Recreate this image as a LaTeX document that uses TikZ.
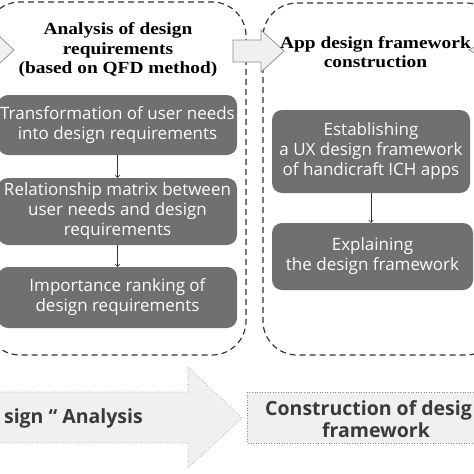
\documentclass[tikz,border=0pt]{standalone}
\usepackage{fontspec}
\setmainfont{Open Sans}
\newfontfamily\titlefont[FakeStretch=1.14]{Liberation Serif}
\usetikzlibrary{arrows.meta}
\definecolor{boxgray}{HTML}{707070}
\definecolor{linegray}{HTML}{333333}
\definecolor{arrowfill}{HTML}{F0F0F0}
\definecolor{arrowline}{HTML}{8A8A8A}
\definecolor{darktext}{HTML}{3A3A3A}
\tikzset{
  gbox/.style={rectangle, rounded corners=10pt, fill=boxgray, text=white,
    font=\fontsize{17}{20}\selectfont, align=center, inner sep=0pt},
  titletext/.style={font=\titlefont\bfseries\fontsize{17}{19.5}\selectfont, align=center, inner sep=0pt, text=black},
  phasebox/.style={draw=linegray, line width=1.2pt, dash pattern=on 6pt off 4pt, rounded corners=34pt},
  flow/.style={draw=linegray, line width=0.6pt, -{To[length=3pt,width=5pt]}},
  bigarrow/.style={fill=arrowfill, draw=arrowline, line width=0.6pt, dotted},
  midarrow/.style={fill=arrowfill, draw=arrowline, line width=0.7pt},
  bigtext/.style={font=\bfseries\fontsize{19.5}{22}\selectfont, text=darktext, inner sep=0pt, align=center}
}
\begin{document}
\begin{tikzpicture}[x=1pt,y=-1pt]
\useasboundingbox (0,0) rectangle (474,474);
% phase containers
\draw[phasebox] (-14,2) rectangle (246,355);
\draw[phasebox] (263,3) rectangle (500,355);
% small arrow fragments at top edges
\draw[midarrow] (-10,37) -- (0,37) -- (14,50) -- (0,63) -- (-10,63);
\draw[midarrow] (480,44) -- (469,50) -- (480,56);
% middle arrow
\draw[midarrow] (233,40) -- (261,40) -- (261,30) -- (284,51) -- (261,72) -- (261,62) -- (233,62) -- cycle;
% titles
\node[titletext] (t1) at (118,50) {Analysis of design\\requirements\\(based on QFD method)};
\node[titletext] (t2) at (375.5,52) {App design framework\\construction};
% left boxes
\node[gbox, minimum width=239pt, minimum height=60pt] (b1) at (117.5,125) {Transformation of user needs\\into design requirements};
\node[gbox, minimum width=239pt, minimum height=67pt] (b2) at (117.5,211.5) {Relationship matrix between\\user needs and design\\requirements};
\node[gbox, minimum width=239pt, minimum height=61pt] (b3) at (117.5,297.5) {Importance ranking of\\design requirements};
\draw[flow] (b1.south) -- (b2.north);
\draw[flow] (b2.south) -- (b3.north);
% right boxes
\node[gbox, minimum width=198pt, minimum height=83pt] (b4) at (371,151.5) {Establishing\\a UX design framework\\of handicraft ICH apps};
\node[gbox, minimum width=201pt, minimum height=67pt] (b5) at (372.5,256.5) {Explaining\\the design framework};
\draw[flow] (b4.south) -- (b4.south |- b5.north);
% bottom stage arrows
\draw[bigarrow] (-5,392) -- (188,392) -- (188,367) -- (242,418) -- (188,468) -- (188,443) -- (-5,443) -- cycle;
\draw[bigarrow] (247,392) rectangle (490,443);
\node[bigtext, anchor=base east] (s1) at (143,423) {sign “ Analysis};
\node[bigtext, anchor=base west] (s2) at (265,415) {Construction of desig};
\node[bigtext, anchor=base] (s3) at (376,437) {framework};
\end{tikzpicture}
\end{document}
